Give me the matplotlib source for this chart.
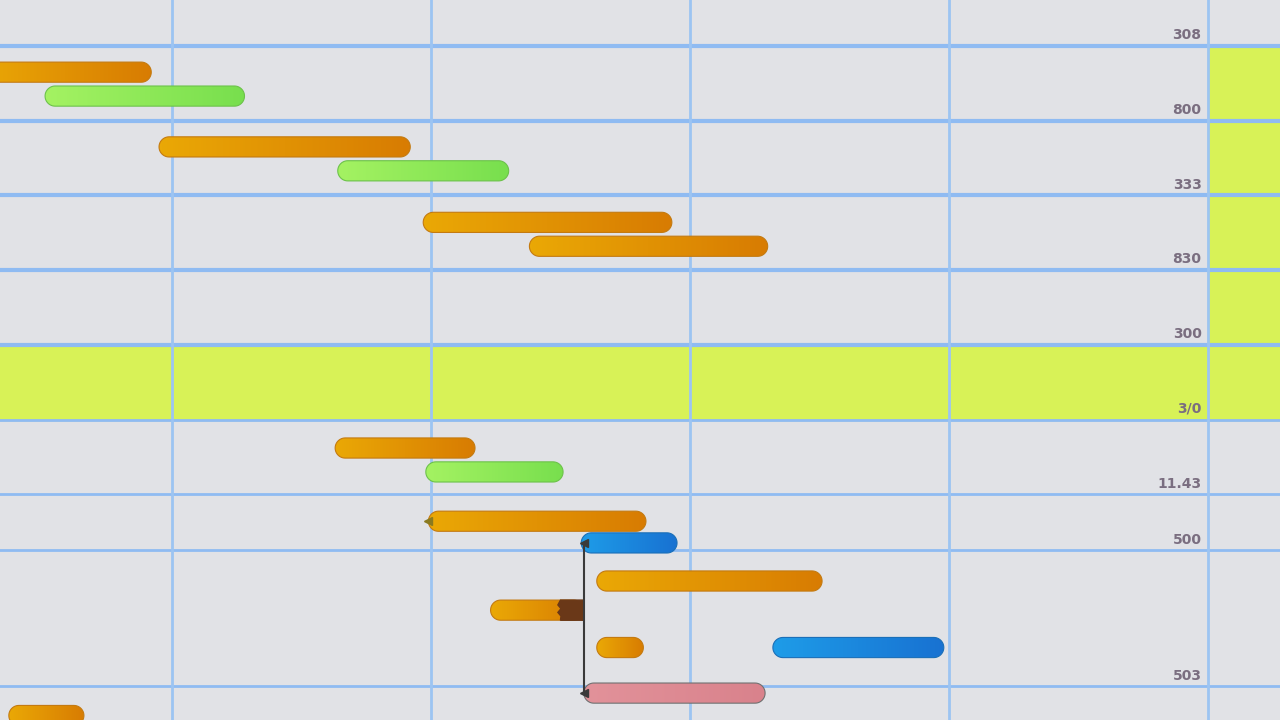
import matplotlib
matplotlib.use("Agg")
import matplotlib.pyplot as plt
import numpy as np
from matplotlib.patches import Rectangle, Polygon
from matplotlib.colors import LinearSegmentedColormap

# task bars: start, end (weeks), lane position, kind
starts = [0.25, 0.51, 0.95, 1.64, 1.97, 2.38, 1.63, 1.98, 1.99, 2.58, 2.64, 2.23, 2.64, 3.32, 2.59, 0.37]
ends = [0.92, 1.28, 1.92, 2.30, 2.93, 3.30, 2.17, 2.51, 2.83, 2.95, 3.51, 2.59, 2.82, 3.98, 3.29, 0.66]
lanes = [0.35, 0.67, 1.35, 1.67, 2.36, 2.68, 5.38, 5.70, 6.36, 6.65, 7.16, 7.55, 8.05, 8.05, 8.66, 8.96]
kinds = ['o', 'g', 'o', 'g', 'o', 'o', 'o', 'g', 'o', 'b', 'o', 'o', 'o', 'b', 'p', 'o']

# row separators and their right-hand labels
row_lines = [0, 1, 2, 3, 4, 5, 6, 6.75, 8.57]
row_labels = ["308", "800", "333", "830", "300", "3/0", "11.43", "500", "503"]
week_lines = [1, 2, 3, 4, 5]

kind_colors = {
    'o': ('#eaa806', '#d87c02', '#c47a10'),
    'g': ('#a4f262', '#78df4e', '#6cc24a'),
    'b': ('#1e9ce8', '#1872d2', '#1a6fb8'),
    'p': ('#e2929a', '#d9828c', '#707070'),
}

bg = '#e1e2e6'
xmin, xmax = 0.336, 5.278
ymin, ymax = -0.616, 9.02
bar_h = 0.27
px_x = 259.0   # pixels per week
px_y = 74.7    # pixels per lane


def pill(s, e, y, h):
    rx = (h / 2) * px_y / px_x
    t = np.linspace(-np.pi / 2, np.pi / 2, 25)
    right = np.column_stack([e - rx + rx * np.cos(t), y - (h / 2) * np.sin(t)])
    left = np.column_stack([s + rx - rx * np.cos(t), y + (h / 2) * np.sin(t)])
    return np.vstack([right, left])


fig = plt.figure(figsize=(12.8, 7.2), dpi=100)
fig.patch.set_facecolor(bg)
ax = fig.add_axes([0, 0, 1, 1])
ax.set_facecolor(bg)

# highlight band and right column
ax.add_patch(Rectangle((xmin, 4), xmax - xmin, 1, color='#d8f257', zorder=0))
ax.add_patch(Rectangle((5, 0), xmax - 5, 5, color='#d8f257', zorder=0))

for i, yl in enumerate(row_lines):
    lw = 3 if yl <= 4 else 2
    ax.axhline(yl, color='#8fbbf2', lw=lw, zorder=1)
    ax.text(4.975, yl - 0.05, row_labels[i], ha='right', va='bottom',
            fontsize=10, fontweight='bold', color='#7a6e80', zorder=2)
for xl in week_lines:
    ax.axvline(xl, color='#9cc4f2', lw=2, zorder=1)

for s, e, y, k in zip(starts, ends, lanes, kinds):
    c0, c1, ec = kind_colors[k]
    patch = Polygon(pill(s, e, y, bar_h), closed=True, facecolor='none',
                    edgecolor=ec, lw=0.8, zorder=4)
    ax.add_patch(patch)
    cmap = LinearSegmentedColormap.from_list('g', [c0, c1])
    grad = np.linspace(0, 1, 64).reshape(1, -1)
    im = ax.imshow(grad, cmap=cmap, extent=(s, e, y + bar_h / 2, y - bar_h / 2),
                   aspect='auto', interpolation='bilinear', zorder=3)
    im.set_clip_path(patch)

# brown tip on the short bar
tip_x0, tip_x1 = 2.49, 2.59
ty = lanes[11]
zig = [(tip_x1, ty - bar_h / 2), (tip_x0 + 0.01, ty - bar_h / 2), (tip_x0, ty - 0.07),
       (tip_x0 + 0.012, ty - 0.02), (tip_x0, ty + 0.03), (tip_x0 + 0.012, ty + 0.08),
       (tip_x0 + 0.01, ty + bar_h / 2), (tip_x1, ty + bar_h / 2)]
ax.add_patch(Polygon(zig, closed=True, color='#6a3818', zorder=5))

# dependency connector
cx = starts[14]
ax.plot([cx, cx], [lanes[9], lanes[14]], color='#3a3a3a', lw=1.5, zorder=6)
ax.plot([cx, cx], [lanes[9], lanes[14]], ls='none', marker='<', ms=6,
        color='#3a3a3a', zorder=6)
ax.plot([starts[8]], [lanes[8]], marker='<', color='#8a7a20', ms=6, zorder=6)

ax.set_xlim(xmin, xmax)
ax.set_ylim(ymax, ymin)
ax.axis('off')

fig.savefig('out.png', dpi=100, facecolor=bg)
